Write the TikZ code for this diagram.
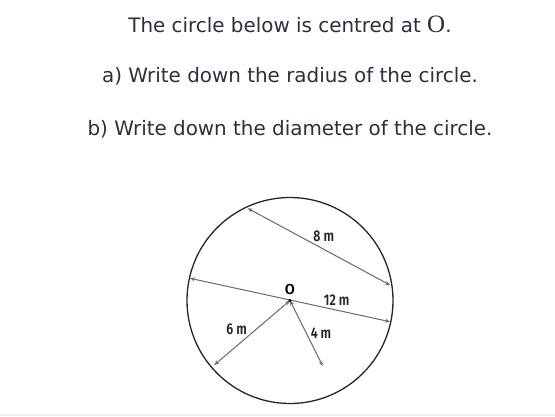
\documentclass[tikz,border=0pt]{standalone}
\usepackage{fontspec}
\setmainfont{DejaVu Sans}
\newfontfamily\labfont[FakeStretch=0.8]{Fira Sans SemiBold}
\newfontfamily\ofont{Fira Sans SemiBold}
\usetikzlibrary{arrows.meta}
\definecolor{txt}{RGB}{43,47,62}
\definecolor{arr}{RGB}{105,105,105}
\definecolor{strip}{RGB}{238,240,246}
\begin{document}
\begin{tikzpicture}[x=1pt,y=-1pt,
  qtext/.style={inner sep=0pt,text=txt,font=\fontsize{19.9}{22}\selectfont},
  lab/.style={inner sep=0pt,text=black!85,font=\labfont\fontsize{15.5}{16}\selectfont},
  dim/.style={draw=arr,line width=1pt,{Stealth[length=5pt,width=4pt]}-{Stealth[length=5pt,width=4pt]}}]
\useasboundingbox (0,0) rectangle (555,416);
\fill[strip] (0,414) rectangle (555,416);
\node[qtext] (l1) at (290,24) {The circle below is centred at {\fontspec{Liberation Serif}\fontsize{25}{25}\selectfont O}.};
\node[qtext] (l2) at (290,76) {a) Write down the radius of the circle.};
\node[qtext] (l3) at (290,129) {b) Write down the diameter of the circle.};
% circle
\coordinate (O) at (290,300.5);
\draw[line width=1.3pt,black!85] (O) circle[radius=103];
\coordinate (a1) at (247.7,208.3);
\coordinate (a2) at (390,285);
\coordinate (d1) at (190,278.3);
\coordinate (d2) at (390,321.7);
\coordinate (r6) at (214.3,365);
\coordinate (r4) at (322.7,366);
\draw[dim] (a1) -- (a2);
\draw[dim] (d1) -- (d2);
\draw[dim] (O) -- (r6);
\draw[dim] (O) -- (r4);
\fill[black] (O) circle[radius=1.6];
\node[lab] (t8) at (323.7,236) {8 m};
\node[lab] (t12) at (336.7,300) {12 m};
\node[lab] (t6) at (236.7,329.7) {6 m};
\node[lab] (t4) at (321,332.8) {4 m};
\node[inner sep=0pt,font=\ofont\fontsize{14.5}{14}\selectfont] (to) at (290,289.7) {O};
\end{tikzpicture}
\end{document}
